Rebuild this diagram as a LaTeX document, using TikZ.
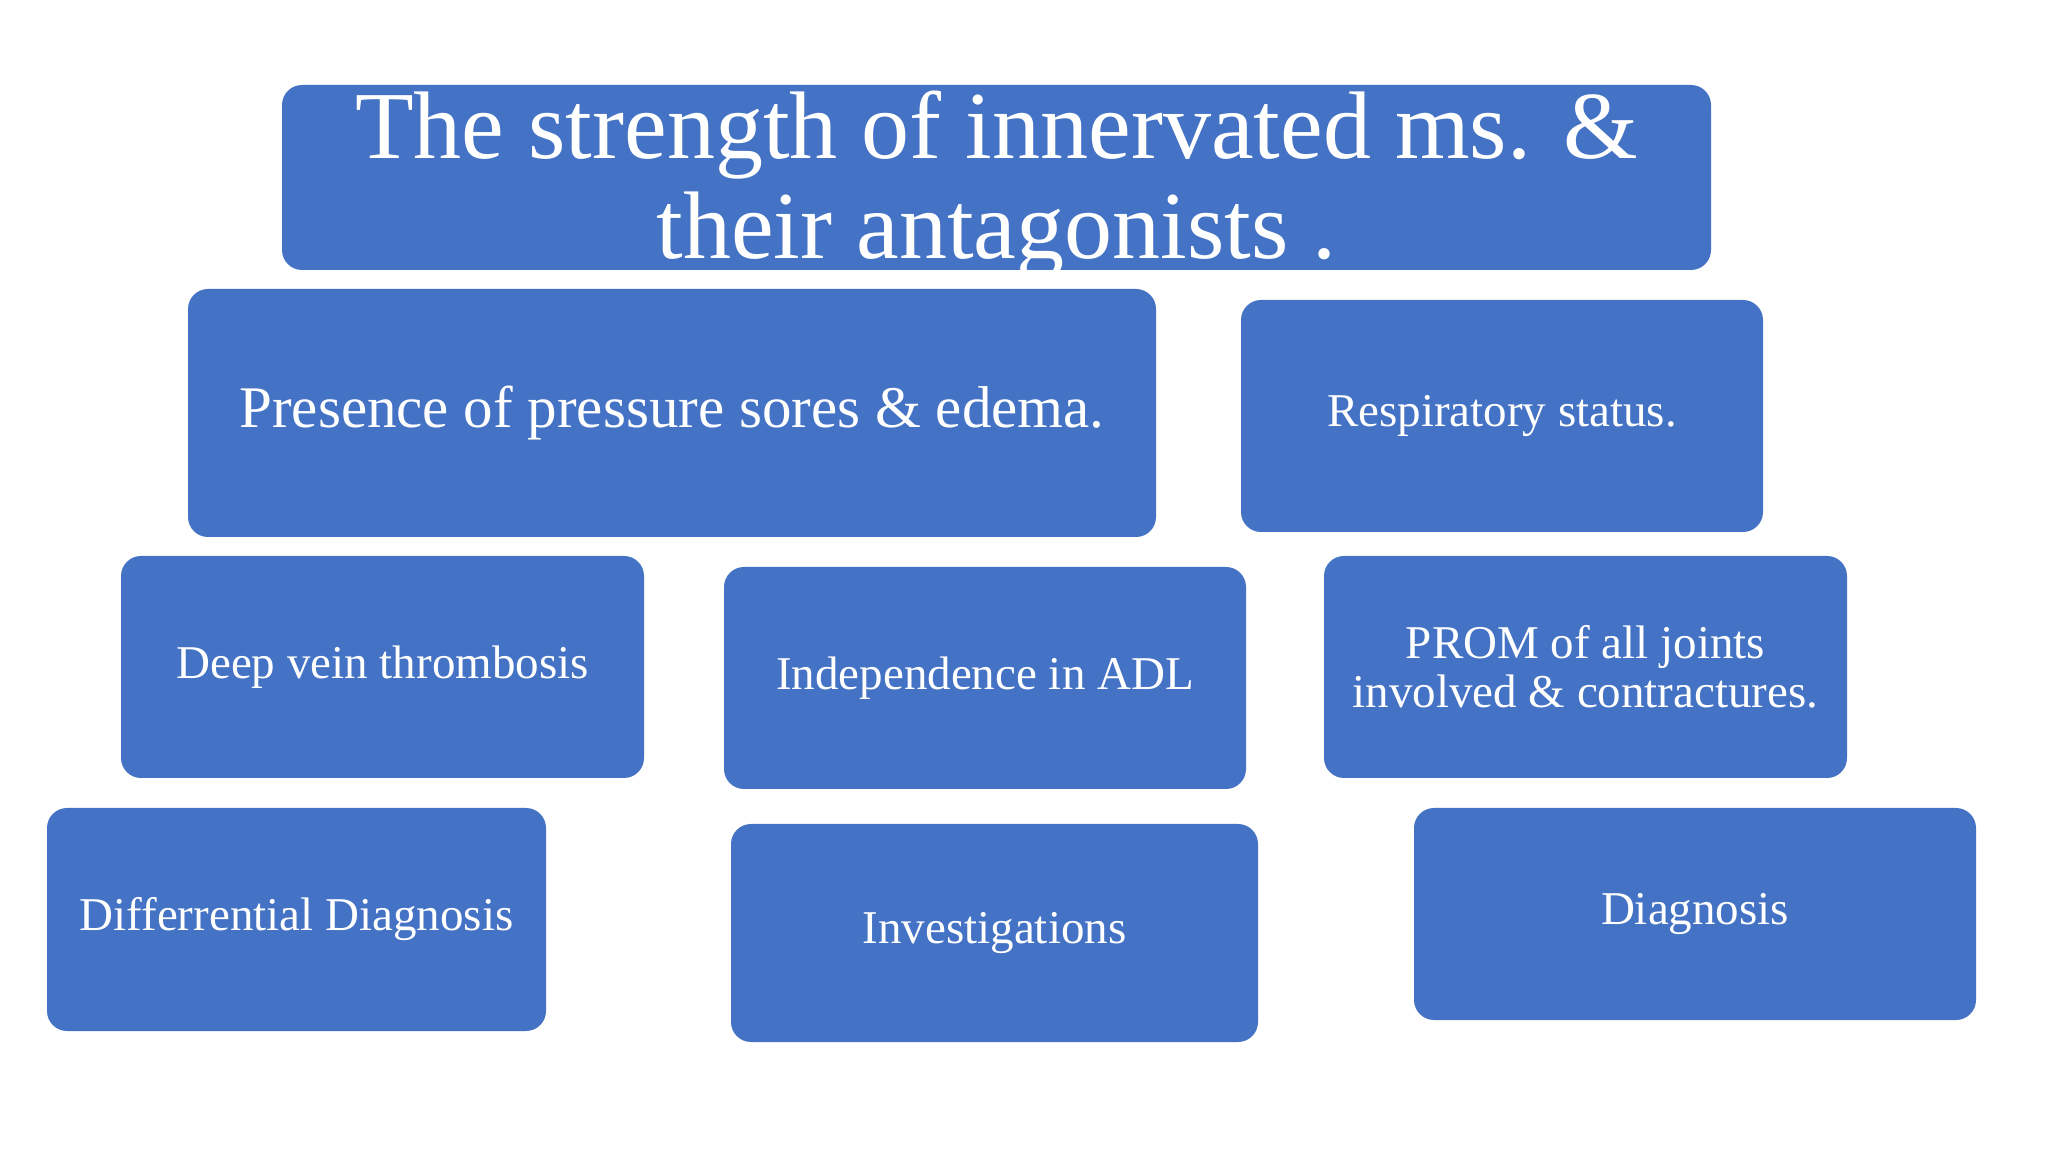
\documentclass[tikz,border=0pt]{standalone}
\usepackage{fontspec}
\setmainfont{Liberation Serif}
\usepackage{xcolor}
\usepackage{tikz}
\usetikzlibrary{shapes,positioning}

\definecolor{boxblue}{HTML}{4472C4}

\begin{document}
\begin{tikzpicture}[x=1pt,y=1pt,
  card/.style={fill=boxblue,draw=none,rounded corners=20pt,inner sep=0pt,outer sep=0pt,
               text=white,align=center,font=\fontsize{47}{49}\selectfont}]
\useasboundingbox[fill=white] (0,0) rectangle (2048,1152);

% top heading
\node[card,minimum width=1429pt,minimum height=185pt] (title) at (996.5,974.5) {};
\node[text=white,align=center,inner sep=0pt,font=\fontsize{96}{100}\selectfont]
  (titletxt) at ([yshift=-8pt]title.center) {The strength of innervated ms. \&\\their antagonists .};

% second row
\node[card,minimum width=968pt,minimum height=248pt,font=\fontsize{59}{62}\selectfont]
  (sores) at (672,739) {Presence of pressure sores \& edema.};
\node[card,minimum width=522pt,minimum height=232pt] (resp) at (1502,736) {Respiratory status.};

% third row
\node[card,minimum width=523pt,minimum height=222pt] (dvt) at (382.5,485) {Deep vein thrombosis};
\node[card,minimum width=522pt,minimum height=222pt] (adl) at (985,474) {Independence in ADL};
\node[card,minimum width=523pt,minimum height=222pt] (prom) at (1585.5,485)
  {PROM of all joints\\involved \& contractures.};

% bottom row
\node[card,minimum width=499pt,minimum height=223pt] (ddx) at (296.5,232.5) {Differrential Diagnosis};
\node[card,minimum width=527pt,minimum height=218pt] (invest) at (994.5,219) {Investigations};
\node[card,minimum width=562pt,minimum height=212pt] (diag) at (1695,238) {Diagnosis};
\end{tikzpicture}
\end{document}
